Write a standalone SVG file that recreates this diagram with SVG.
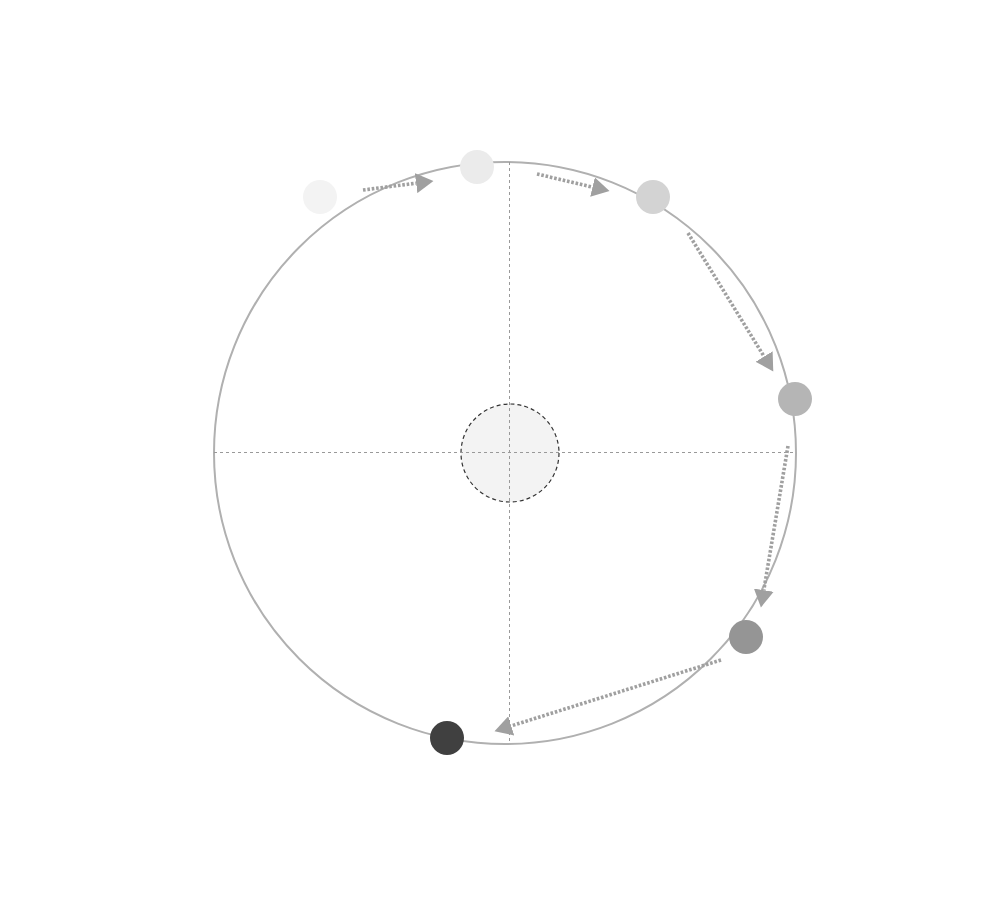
<svg xmlns="http://www.w3.org/2000/svg" width="1000" height="906" viewBox="0 0 1000 906">
<style>
.orbit{fill:none;stroke:#b0b0b0;stroke-width:2}
.axis{stroke:#999;stroke-width:1;stroke-dasharray:3 3;fill:none}
.arrow{stroke:#a0a0a0;stroke-width:3.6;stroke-dasharray:2.6 1.8;fill:none;marker-end:url(#ah)}
</style>
<defs>
<marker id="ah" markerUnits="userSpaceOnUse" markerWidth="18" markerHeight="20" refX="0" refY="10" orient="auto" viewBox="0 0 18 20">
<path d="M0,0 L17.5,10 L0,20 z" fill="#a0a0a0"/>
</marker>
</defs>
<rect width="1000" height="906" fill="#fff"/>
<g id="orbit">
<circle class="orbit" cx="505" cy="453" r="291"/>
</g>
<g id="sun">
<circle cx="510" cy="453" r="49" fill="#f3f3f3" stroke="#333" stroke-width="1.2" stroke-dasharray="4 3"/>
</g>
<g id="axes">
<line class="axis" x1="214" y1="452.5" x2="796" y2="452.5"/>
<line class="axis" x1="509.5" y1="162" x2="509.5" y2="744"/>
</g>
<g id="connectors">
<line class="arrow" x1="363" y1="190" x2="416.1" y2="183.2"/>
<line class="arrow" x1="537" y1="174" x2="592.5" y2="187.1"/>
<line class="arrow" x1="688" y1="233" x2="764.1" y2="356.5"/>
<line class="arrow" x1="788" y1="446" x2="763.8" y2="590.2"/>
<line class="arrow" x1="721" y1="660" x2="511.2" y2="725.9"/>
</g>
<g id="p1"><circle cx="320" cy="197" r="17" fill="#f3f3f3"/></g>
<g id="p2"><circle cx="477" cy="167" r="17" fill="#ebebeb"/></g>
<g id="p3"><circle cx="653" cy="197" r="17" fill="#d3d3d3"/></g>
<g id="p4"><circle cx="795" cy="399" r="17" fill="#b5b5b5"/></g>
<g id="p5"><circle cx="746" cy="637" r="17" fill="#959595"/></g>
<g id="p6"><circle cx="447" cy="738" r="17" fill="#404040"/></g>
</svg>
